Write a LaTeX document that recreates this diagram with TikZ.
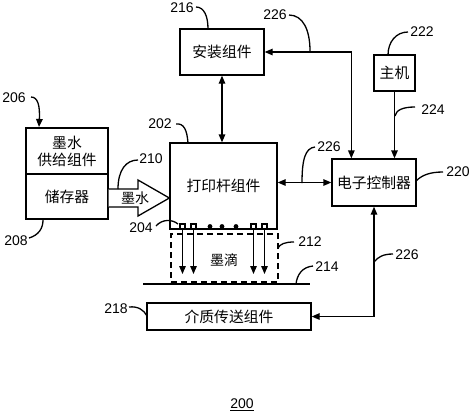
\documentclass[tikz,border=0pt]{standalone}
\usepackage{fontspec}
\setmainfont{Liberation Sans}
\newfontfamily\cjk{Noto Sans CJK SC}
\usetikzlibrary{arrows.meta,calc}
\begin{document}
\begin{tikzpicture}[x=1bp,y=-1bp, line width=1.3bp,
  box/.style={draw, inner sep=0pt, font=\cjk\fontsize{14.8bp}{17bp}\selectfont},
  lbl/.style={inner sep=0pt, font=\fontsize{14bp}{15bp}\selectfont},
  arr/.style={-{Triangle[length=8bp,width=6.5bp]}},
  darr/.style={{Triangle[length=8bp,width=6.5bp]}-{Triangle[length=8bp,width=6.5bp]}}]
\useasboundingbox (0,0) rectangle (474,415);
% boxes
\node[box, minimum width=82bp, minimum height=46bp, align=center] (supply) at (67,151) {墨水\\供给组件};
\node[box, minimum width=82bp, minimum height=45bp] (store) at (67,196.5) {储存器};
\node[box, minimum width=107bp, minimum height=86bp] (cart) at (223.5,186) {打印杆组件};
\node[box, minimum width=84bp, minimum height=46bp] (mount) at (222,52) {安装组件};
\node[box, minimum width=41bp, minimum height=36bp] (host) at (394.5,73) {主机};
\node[box, minimum width=84bp, minimum height=47bp] (ctrl) at (374,182.5) {电子控制器};
\node[box, minimum width=164bp, minimum height=27bp] (media) at (229,316.5) {介质传送组件};
\node[draw, dash pattern=on 6bp off 4bp, minimum width=107bp, minimum height=48bp, inner sep=0pt] (drops) at (224.5,258) {};
\node[font=\cjk\fontsize{14bp}{15bp}\selectfont, inner sep=0pt] (droptxt) at (224,260) {墨滴};
\coordinate (webL) at (143,284);
\coordinate (webR) at (310,284);
\draw (webL) -- (webR);
% hollow ink arrow
\draw[fill=white] (store.east |- 0,189) -- (138,189) -- (138,180) -- (cart.west |- 0,198) -- (138,216) -- (138,207) -- (store.east |- 0,207);
\node[font=\cjk\fontsize{14bp}{15bp}\selectfont, inner sep=0pt] (inktxt) at (135,198) {墨水};
% nozzles
\foreach \x in {180,191,251,262} \draw[line width=1.1bp] (\x,224) rectangle ++(5,5);
\foreach \x in {210,222,236} \fill (\x,226.5) circle (2.4bp);
\foreach \x in {182.5,193.5,253.5,264.5} \draw[arr] (\x,229) -- (\x,274);
% connectors
\draw[darr] (mount.south) -- (mount.south |- cart.north);
\draw[darr] (mount.east) -| ($(ctrl.north west)+(20,0)$);
\draw[arr] (host.south) -- (host.south |- ctrl.north);
\draw[darr] (cart.east |- ctrl.west) -- (ctrl.west);
\draw[darr] (ctrl.south) |- (media.east);
% labels
\node[lbl] (l206) at (14,98) {206};
\draw[arr] (31,97) .. controls (38,97) and (40,106) .. (39,127);
\node[lbl] (l208) at (16,241) {208};
\draw (29,238) .. controls (39,235) and (43,228) .. (43,220);
\node[lbl] (l210) at (151,159) {210};
\draw (118,189) .. controls (118,170) and (126,160) .. (138,160);
\node[lbl] (l202) at (160,124) {202};
\draw (176,124) .. controls (184,123) and (187,130) .. (188,143);
\node[lbl] (l216) at (182,8) {216};
\draw (196,7) .. controls (204,7) and (208,16) .. (208,29);
\node[lbl] (l226a) at (275,15) {226};
\draw (289,15) .. controls (303,15) and (310,30) .. (310,51);
\node[lbl] (l222) at (422,32) {222};
\draw (408,32) .. controls (396,32) and (388,42) .. (388,55);
\node[lbl] (l224) at (433,110) {224};
\draw (415,107) .. controls (403,107) and (396,110) .. (395,116);
\node[lbl] (l220) at (458,172) {220};
\draw (443,172) .. controls (430,172) and (422,175) .. (416,181);
\node[lbl] (l226b) at (329,147) {226};
\draw (315,147) .. controls (305,148) and (302,160) .. (302,183);
\node[lbl] (l204) at (141,228) {204};
\draw (156,226) .. controls (162,219) and (172,219) .. (178,224);
\node[lbl] (l212) at (310,242) {212};
\draw (294,242) .. controls (285,242) and (280,244) .. (278,248);
\node[lbl] (l214) at (327,267) {214};
\draw (313,266) .. controls (302,267) and (297,275) .. (296,284);
\node[lbl] (l226c) at (407,255) {226};
\draw (393,254) .. controls (383,254) and (378,257) .. (374,262);
\node[lbl] (l218) at (116,309) {218};
\draw (129,307) .. controls (138,306) and (144,310) .. (147,316);
\node[lbl] (l200) at (242,405) {\underline{200}};
\end{tikzpicture}
\end{document}
